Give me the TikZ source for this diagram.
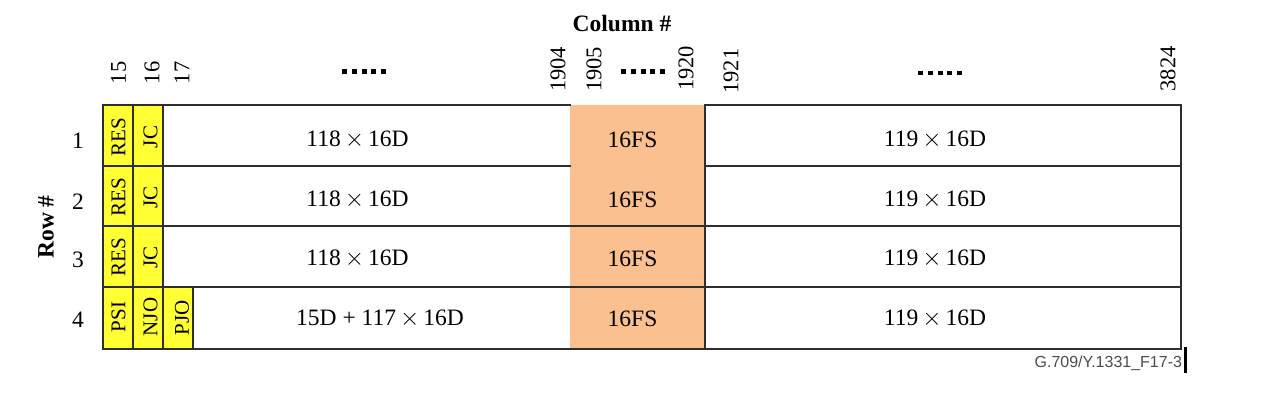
\documentclass[tikz,border=0pt]{standalone}
\usepackage{fontspec}
\setmainfont{Liberation Serif}
\newfontfamily\tagfont{Liberation Sans}
\usepackage{xcolor}
\newcommand{\dotSq}{\rule{5pt}{5pt}}
\newcommand{\dotRun}{\dotSq\hspace{4.6pt}\dotSq\hspace{4.6pt}\dotSq\hspace{4.6pt}\dotSq\hspace{4.6pt}\dotSq}

\begin{document}
\begin{tikzpicture}[x=1pt,y=1pt,
  cellText/.style={text=black,inner sep=0pt, outer sep=0pt, font=\fontsize{23.5}{28}\selectfont},
  sideText/.style={text=black,rotate=90,inner sep=0pt, outer sep=0pt, font=\fontsize{21}{25}\selectfont},
  colNum/.style={text=black,rotate=90,inner sep=0pt, outer sep=0pt, font=\fontsize{22.5}{27}\selectfont},
  headText/.style={text=black,inner sep=0pt, outer sep=0pt, font=\bfseries\fontsize{23.5}{28}\selectfont},
  gridLine/.style={draw=drawColor,line width=2pt,line cap=rect}]
\definecolor{fillColor}{RGB}{255,255,255}
\path[use as bounding box,fill=fillColor] (0,0) rectangle (1264,416);

% cell fills
\definecolor{fillColor}{RGB}{255,255,51}
\path[fill=fillColor] (103,129) rectangle (163,311);
\path[fill=fillColor] (103,67) rectangle (193,129);
\definecolor{fillColor}{RGB}{250,192,143}
\path[fill=fillColor] (570,67) rectangle (705,311);

% grid
\definecolor{drawColor}{gray}{0.18}
\path[gridLine] (103,311) -- (570,311);
\path[gridLine] (705,311) -- (1181,311);
\path[gridLine] (103,250) -- (570,250);
\path[gridLine] (705,250) -- (1181,250);
\path[gridLine] (103,190) -- (1181,190);
\path[gridLine] (103,129) -- (1181,129);
\path[gridLine] (103,67) -- (1181,67);

\path[gridLine] (103,67) -- (103,311);
\path[gridLine] (133,67) -- (133,311);
\path[gridLine] (163,67) -- (163,311);
\path[gridLine] (193,67) -- (193,129);
\path[gridLine] (705,67) -- (705,311);
\path[gridLine] (1181,67) -- (1181,311);

% overhead columns
\node[sideText] (res1) at (118.5,279) {RES};
\node[sideText] (jc1) at (150.5,279) {JC};
\node[sideText] (res2) at (118.5,218.5) {RES};
\node[sideText] (jc2) at (150.5,218.5) {JC};
\node[sideText] (res3) at (118.5,158.5) {RES};
\node[sideText] (jc3) at (150.5,158.5) {JC};
\node[sideText] (psi) at (118.5,99) {PSI};
\node[sideText] (njo) at (150.5,99) {NJO};
\node[sideText] (pjo) at (182,98.5) {PJO};

% payload
\node[cellText] (payA1) at (357.5,276) {118\,$\times$\,16D};
\node[cellText] (payA2) at (357.5,216) {118\,$\times$\,16D};
\node[cellText] (payA3) at (357.5,157) {118\,$\times$\,16D};
\node[cellText] (payA4) at (380,97) {15D + 117\,$\times$\,16D};

\node[cellText] (fs1) at (632.5,276) {16FS};
\node[cellText] (fs2) at (632.5,216) {16FS};
\node[cellText] (fs3) at (632.5,157) {16FS};
\node[cellText] (fs4) at (632.5,97) {16FS};

\node[cellText] (payB1) at (935,276) {119\,$\times$\,16D};
\node[cellText] (payB2) at (935,216) {119\,$\times$\,16D};
\node[cellText] (payB3) at (935,157) {119\,$\times$\,16D};
\node[cellText] (payB4) at (935,97) {119\,$\times$\,16D};

% row numbers
\node[cellText] (row1) at (78,275) {1};
\node[cellText] (row2) at (78,214) {2};
\node[cellText] (row3) at (78,156) {3};
\node[cellText] (row4) at (78,96) {4};
\node[headText,rotate=90] (rowHead) at (46,189) {Row \#};

% column numbers
\node[colNum] (col15) at (118.5,343) {15};
\node[colNum] (col16) at (152,343) {16};
\node[colNum] (col17) at (182,343) {17};
\node[colNum] (col1904) at (558,346.5) {1904};
\node[colNum] (col1905) at (594,346.5) {1905};
\node[colNum] (col1920) at (686,347.5) {1920};
\node[colNum] (col1921) at (731,345) {1921};
\node[colNum] (col3824) at (1168,347) {3824};
\node[inner sep=0pt] (dotsA) at (364,344) {\dotRun};
\node[inner sep=0pt] (dotsB) at (643,344) {\dotRun};
\node[inner sep=0pt] (dotsC) at (940,343) {\dotRun};
\node[headText] (colHead) at (622,393) {Column \#};

% figure tag
\definecolor{drawColor}{gray}{0.30}
\node[text=drawColor,anchor=east,inner sep=0pt, outer sep=0pt, font=\tagfont\fontsize{16}{19}\selectfont] (figTag) at (1182,53) {G.709/Y.1331\_F17-3};
\path[draw=black,line width=3pt] (1185.5,69.5) -- (1185.5,43);
\end{tikzpicture}
\end{document}
